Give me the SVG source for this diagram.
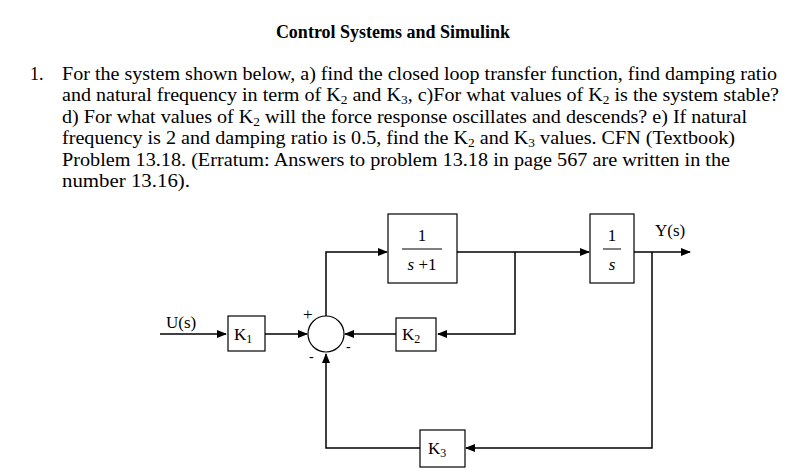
<svg xmlns="http://www.w3.org/2000/svg" width="787" height="472" viewBox="0 0 787 472">
<style>
text{font-family:"Liberation Serif","Times New Roman",serif;fill:#000}
.p{font-size:18px}
.b{fill:#fff;stroke:#000;stroke-width:1.2}
.c{fill:none;stroke:#000;stroke-width:1.5}
.s{font-size:12px}
.l{font-size:17px}
</style>
<defs><marker id="a" markerWidth="10" markerHeight="8" refX="9" refY="4" orient="auto" markerUnits="userSpaceOnUse"><path d="M0,0L10,4L0,8z" fill="#000"/></marker></defs>
<rect width="787" height="472" fill="#fff"/>
<text x="393" y="38" text-anchor="middle" font-weight="bold" font-size="18">Control Systems and Simulink</text>
<text class="p" x="30" y="80">1.</text>
<g class="p">
<text x="62" y="80" textLength="715" lengthAdjust="spacingAndGlyphs">For the system shown below, a) find the closed loop transfer function, find damping ratio</text>
<text x="62" y="101" textLength="717" lengthAdjust="spacingAndGlyphs">and natural frequency in term of K<tspan class="s" dy="3">2</tspan><tspan dy="-3"> and K</tspan><tspan class="s" dy="3">3</tspan><tspan dy="-3">, c)For what values of K</tspan><tspan class="s" dy="3">2</tspan><tspan dy="-3"> is the system stable?</tspan></text>
<text x="62" y="123" textLength="685" lengthAdjust="spacingAndGlyphs">d) For what values of K<tspan class="s" dy="3">2</tspan><tspan dy="-3"> will the force response oscillates and descends? e) If natural</tspan></text>
<text x="62" y="144" textLength="673" lengthAdjust="spacingAndGlyphs">frequency is 2 and damping ratio is 0.5, find the K<tspan class="s" dy="3">2</tspan><tspan dy="-3"> and K</tspan><tspan class="s" dy="3">3</tspan><tspan dy="-3"> values. CFN (Textbook)</tspan></text>
<text x="62" y="166" textLength="668" lengthAdjust="spacingAndGlyphs">Problem 13.18.  (Erratum: Answers to problem 13.18 in page 567 are written in the</text>
<text x="62" y="187" textLength="128" lengthAdjust="spacingAndGlyphs">number 13.16).</text>
</g>
<g id="connectors" class="c">
<path d="M160,334H226" marker-end="url(#a)"/>
<path d="M265,334H307" marker-end="url(#a)"/>
<path d="M326,316V252H387" marker-end="url(#a)"/>
<path d="M457,252H589" marker-end="url(#a)"/>
<path d="M515,252V334H438" marker-end="url(#a)"/>
<path d="M396,334H345" marker-end="url(#a)"/>
<path d="M634,252H690" marker-end="url(#a)"/>
<path d="M652,252V448H466" marker-end="url(#a)"/>
<path d="M420,448H326V354" marker-end="url(#a)"/>
</g>
<g id="sum"><circle class="b" cx="326" cy="334" r="18"/>
<text class="l" x="303" y="320" font-size="13">+</text><text x="346" y="351" font-size="14">-</text><text x="309" y="361" font-size="14">-</text></g>
<g id="u"><text class="l" x="166" y="328">U(s)</text></g>
<g id="K1"><rect class="b" x="228" y="316" width="37" height="35"/><text class="l" x="234" y="340">K<tspan class="s" dy="3">1</tspan></text></g>
<g id="G1"><rect class="b" x="388" y="214" width="69" height="69"/><text class="l" x="422" y="241" text-anchor="middle">1</text><path d="M402,249H442" stroke="#000"/><text class="l" x="422" y="270" text-anchor="middle"><tspan font-style="italic">s</tspan> +1</text></g>
<g id="G2"><rect class="b" x="590" y="214" width="44" height="69"/><text class="l" x="612" y="241" text-anchor="middle">1</text><path d="M603,249H621" stroke="#000"/><text class="l" x="612" y="270" text-anchor="middle" font-style="italic">s</text></g>
<g id="y"><text class="l" x="655" y="236">Y(s)</text></g>
<g id="K2"><rect class="b" x="396" y="318" width="40" height="33"/><text class="l" x="402" y="340">K<tspan class="s" dy="3">2</tspan></text></g>
<g id="K3"><rect class="b" x="420" y="430" width="45" height="37"/><text class="l" x="428" y="454">K<tspan class="s" dy="3">3</tspan></text></g>
</svg>
